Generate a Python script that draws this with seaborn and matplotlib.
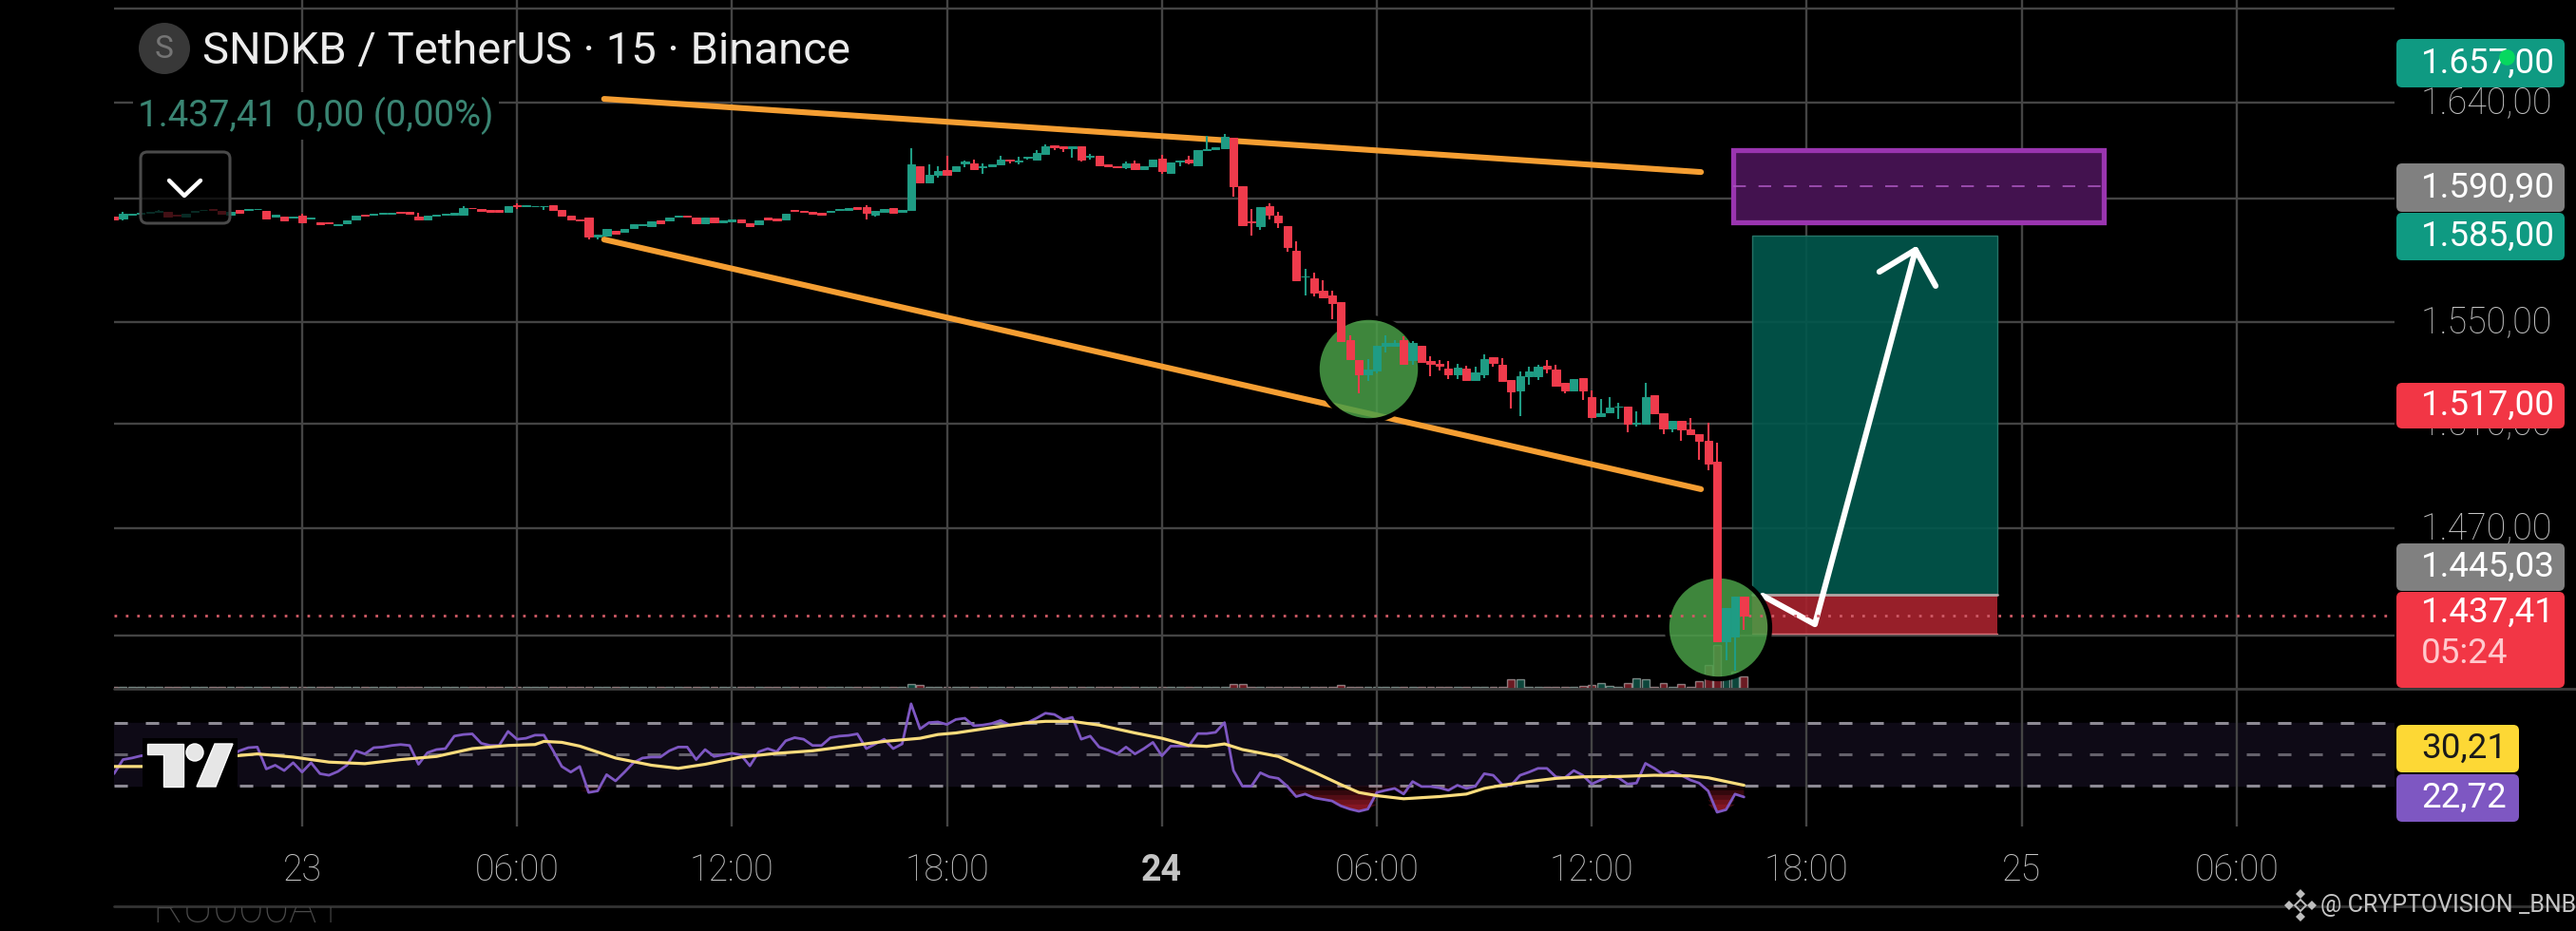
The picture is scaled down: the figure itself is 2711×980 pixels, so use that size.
import numpy as np
import pandas as pd
import matplotlib.pyplot as plt
import seaborn as sns
from matplotlib.patches import FancyBboxPatch, Rectangle, Polygon, Circle

W, H = 2711, 980

# =============================
# CANDLES (15 min, from 22nd 18:45)
# =============================
opens = [
    1592.6, 1591.8, 1593.5, 1593.9, 1594.2, 1594.7, 1594.4, 1593.3, 1592.8, 1594.4,
    1595.4, 1595.6, 1594.9, 1593.3, 1595.3, 1595.5, 1595.6, 1595.1, 1592.6, 1592.6,
    1592.1, 1593.0, 1591.9, 1590.3, 1590.5, 1589.2, 1590.0, 1591.4, 1593.6, 1593.6,
    1593.7, 1593.9, 1594.4, 1594.5, 1592.8, 1591.5, 1593.1, 1593.3, 1593.6, 1593.6,
    1596.3, 1595.9, 1595.3, 1595.3, 1594.4, 1597.4, 1597.0, 1596.9, 1596.8, 1597.2,
    1595.5, 1593.1, 1591.4, 1592.1, 1584.4, 1585.0, 1586.7, 1586.3, 1588.0, 1589.2,
    1588.9, 1591.0, 1591.0, 1592.6, 1593.0, 1592.3, 1590.0, 1592.1, 1590.5, 1590.8,
    1591.4, 1589.9, 1589.5, 1592.1, 1591.8, 1591.4, 1595.3, 1595.1, 1594.6, 1594.1,
    1594.6, 1595.4, 1595.5, 1596.4, 1596.5, 1593.6, 1594.6, 1596.2, 1594.6, 1595.5,
    1613.6, 1606.8, 1609.7, 1612.0, 1611.4, 1614.7, 1614.7, 1613.1, 1613.4, 1614.3,
    1616.1, 1615.3, 1617.0, 1616.0, 1618.6, 1622.2, 1621.9, 1621.0, 1621.8, 1617.3,
    1617.6, 1614.3, 1613.6, 1613.1, 1614.7, 1612.3, 1613.6, 1616.7, 1610.7, 1615.3,
    1616.3, 1613.9, 1620.2, 1620.6, 1621.0, 1625.2, 1605.2, 1590.8, 1588.9, 1597.0,
    1593.1, 1588.6, 1578.6, 1568.2, 1567.4, 1562.4, 1560.7, 1557.9, 1542.9, 1535.0,
    1529.2, 1531.0, 1540.4, 1540.4, 1542.9, 1534.8, 1540.4, 1534.4, 1533.3, 1531.7,
    1529.2, 1531.7, 1527.0, 1529.5, 1536.0, 1532.9, 1527.0, 1522.9, 1528.5, 1528.5,
    1532.7, 1531.3, 1526.0, 1522.9, 1527.9, 1520.5, 1512.8, 1514.4, 1516.6, 1516.8,
    1510.0, 1510.0, 1521.3, 1514.1, 1508.1, 1511.0, 1507.9, 1505.9, 1503.5, 1495.3,
    1428.0, 1429.7, 1444.3,
]
closes = [
    1591.4, 1593.9, 1594.0, 1594.2, 1594.7, 1595.0, 1592.7, 1592.9, 1593.9, 1595.1,
    1595.5, 1595.4, 1593.9, 1594.6, 1594.2, 1595.8, 1595.8, 1591.8, 1593.3, 1591.0,
    1592.7, 1590.5, 1592.3, 1589.5, 1590.1, 1589.5, 1591.0, 1593.1, 1593.1, 1593.9,
    1594.1, 1594.2, 1594.1, 1593.9, 1591.4, 1593.1, 1593.6, 1593.7, 1594.2, 1596.2,
    1596.0, 1595.1, 1594.6, 1594.6, 1596.9, 1596.9, 1597.2, 1597.0, 1596.9, 1595.5,
    1593.0, 1591.4, 1591.2, 1584.6, 1585.4, 1587.6, 1585.7, 1587.5, 1589.5, 1589.6,
    1590.8, 1590.1, 1592.1, 1593.1, 1592.6, 1589.9, 1592.3, 1590.5, 1591.2, 1591.3,
    1590.5, 1588.7, 1591.2, 1591.3, 1591.2, 1593.9, 1594.9, 1594.4, 1594.0, 1593.3,
    1595.1, 1595.6, 1596.2, 1595.9, 1594.2, 1595.0, 1595.9, 1594.2, 1595.3, 1614.0,
    1606.8, 1609.8, 1611.4, 1610.0, 1613.4, 1615.2, 1612.3, 1613.4, 1614.0, 1616.0,
    1615.6, 1615.6, 1617.3, 1618.9, 1621.9, 1621.5, 1621.0, 1621.9, 1616.3, 1617.9,
    1613.8, 1613.6, 1613.1, 1614.4, 1612.3, 1613.4, 1616.0, 1611.4, 1614.9, 1615.7,
    1615.1, 1620.2, 1620.6, 1621.5, 1625.6, 1605.2, 1589.3, 1590.2, 1596.6, 1593.4,
    1590.2, 1580.2, 1566.7, 1568.5, 1562.0, 1560.0, 1557.5, 1542.3, 1535.4, 1529.2,
    1531.3, 1540.4, 1541.7, 1541.7, 1533.5, 1541.7, 1534.2, 1533.5, 1532.7, 1529.2,
    1531.9, 1527.0, 1530.0, 1535.4, 1533.8, 1526.7, 1522.6, 1528.5, 1530.4, 1532.3,
    1531.7, 1525.0, 1522.9, 1527.5, 1522.9, 1512.5, 1514.0, 1516.4, 1516.8, 1510.0,
    1510.4, 1520.5, 1514.1, 1508.2, 1511.0, 1507.9, 1505.9, 1503.5, 1494.6, 1428.0,
    1440.1, 1444.3, 1437.41,
]
# only candles with a wick that can be seen
high_wicks = {
    1: 1594.5, 5: 1595.5, 21: 1594.0, 34: 1594.2, 39: 1596.8, 45: 1598.2, 84: 1597.2,
    89: 1620.9, 91: 1614.0, 92: 1613.6, 93: 1617.7, 95: 1615.6, 96: 1616.0, 97: 1614.4,
    99: 1617.6, 101: 1617.3, 103: 1620.2, 104: 1622.6, 109: 1618.6, 113: 1615.3,
    114: 1615.7, 117: 1618.2, 120: 1617.6, 122: 1625.9, 124: 1626.8, 127: 1595.9,
    129: 1598.1, 130: 1594.7, 132: 1582.7, 133: 1571.2, 134: 1569.9, 135: 1566.8,
    136: 1562.6, 138: 1544.8, 140: 1535.4, 142: 1544.8, 143: 1543.0, 144: 1544.5,
    145: 1542.5, 147: 1536.3, 148: 1534.8, 149: 1534.4, 150: 1533.5, 151: 1532.7,
    152: 1532.3, 153: 1537.3, 155: 1535.8, 157: 1530.4, 158: 1532.3, 159: 1532.9,
    160: 1534.8, 161: 1532.9, 165: 1522.9, 166: 1519.5, 167: 1520.5, 168: 1518.0,
    170: 1515.0, 171: 1526.0, 176: 1512.3, 178: 1510.5, 179: 1502.6,
}
low_wicks = {
    1: 1591.0, 21: 1589.9, 45: 1595.9, 48: 1595.5, 53: 1583.4, 54: 1583.4, 84: 1591.4,
    85: 1592.7, 91: 1606.5, 92: 1608.7, 93: 1609.4, 95: 1613.1, 96: 1611.8, 97: 1610.3,
    99: 1613.9, 100: 1614.4, 101: 1614.3, 102: 1616.0, 105: 1620.0, 106: 1619.3,
    107: 1617.0, 108: 1615.2, 109: 1616.0, 113: 1612.3, 117: 1610.3, 118: 1610.3,
    119: 1613.6, 120: 1614.3, 125: 1600.8, 127: 1584.8, 128: 1587.2, 129: 1591.5,
    130: 1588.0, 131: 1578.2, 133: 1560.7, 134: 1560.3, 136: 1551.3, 139: 1521.7,
    140: 1526.7, 141: 1529.8, 142: 1537.9, 145: 1532.9, 147: 1528.5, 148: 1530.8,
    149: 1527.5, 150: 1527.5, 153: 1527.9, 154: 1532.3, 156: 1516.0, 157: 1512.9,
    158: 1525.4, 159: 1527.0, 160: 1529.8, 162: 1521.7, 164: 1519.2, 168: 1512.0,
    169: 1506.8, 170: 1508.8, 173: 1506.1, 174: 1506.8, 175: 1503.5, 177: 1496.2,
    178: 1491.9, 180: 1421.0, 181: 1417.0, 182: 1432.0,
}
# volume, most bars are tiny so only the taller ones are listed
volume_base = 2.5
volumes_tall = {
    89: 5, 90: 4, 125: 5, 126: 5, 137: 4, 156: 10, 157: 10, 164: 3, 165: 4, 166: 6, 167: 3,
    169: 6, 170: 11, 171: 10, 173: 6, 175: 5, 177: 8, 178: 25, 179: 46, 180: 13, 181: 18, 182: 13,
}

# =============================
# RSI
# =============================
rsi = [
    37.6, 46.6, 47.6, 49.0, 49.6, 50.6, 46.6, 45.6, 46.6, 48.6, 49.6, 50.2, 48.2, 49.0, 52.2,
    54.2, 54.6, 40.6, 43.0, 39.6, 44.6, 38.6, 44.6, 37.6, 36.6, 39.0, 43.0, 52.2, 50.2, 54.2,
    54.6, 55.6, 56.2, 55.6, 43.6, 51.0, 53.0, 53.6, 61.6, 62.6, 63.0, 57.0, 55.6, 55.6, 64.6,
    59.6, 60.2, 62.2, 62.2, 52.6, 42.2, 38.6, 42.2, 25.6, 26.6, 37.0, 33.0, 38.6, 44.6, 47.6,
    48.2, 48.2, 52.2, 54.6, 54.6, 46.6, 53.0, 48.6, 49.6, 50.6, 49.6, 42.6, 51.6, 53.6, 51.6,
    58.6, 60.6, 59.6, 55.6, 55.6, 60.6, 61.6, 62.0, 63.0, 53.6, 56.6, 59.6, 53.6, 56.6, 82.2,
    66.2, 70.2, 70.6, 69.0, 72.2, 73.0, 68.2, 68.6, 69.6, 71.6, 68.6, 69.0, 70.2, 73.0, 76.2,
    75.4, 72.0, 73.6, 59.6, 61.6, 54.6, 52.6, 50.2, 54.6, 50.2, 53.6, 57.6, 49.0, 55.2, 55.2,
    55.2, 63.2, 63.2, 64.0, 70.2, 39.6, 29.6, 29.6, 38.2, 35.6, 34.6, 29.6, 23.0, 24.6, 22.2,
    21.2, 20.2, 17.0, 15.0, 13.6, 15.0, 25.6, 27.0, 28.2, 24.6, 32.6, 29.4, 29.4, 28.6, 27.0,
    30.2, 28.2, 29.6, 37.6, 36.6, 30.6, 30.2, 36.6, 38.6, 41.0, 41.0, 35.6, 35.0, 39.6, 36.6,
    31.0, 33.6, 36.2, 35.0, 31.0, 31.6, 44.2, 41.0, 37.0, 39.0, 36.6, 33.6, 31.6, 26.6, 13.0,
    14.6, 24.6, 22.72,
]
rsi_ma_slots = [
    0, 4, 8, 12, 16, 20, 24, 28, 32, 36, 40, 44, 47, 48, 50, 52, 56, 60, 63, 66, 70, 74, 78, 82, 86,
    90, 92, 94, 98, 102, 104, 107, 110, 114, 117, 120, 122, 124, 126, 130, 134, 137, 139, 141, 144,
    148, 151, 153, 155, 158, 161, 164, 168, 172, 176, 178, 180, 182,
]
rsi_ma = [
    42.2, 42.2, 45.6, 48.2, 50.2, 48.2, 45.0, 44.0, 46.6, 48.6, 53.6, 55.6, 56.2, 58.2, 57.6, 55.2,
    47.6, 43.0, 41.0, 43.6, 48.2, 50.6, 52.2, 55.2, 58.2, 60.2, 62.6, 63.6, 67.0, 70.2, 71.0, 71.0,
    68.6, 63.6, 60.2, 55.6, 55.0, 56.6, 53.0, 48.6, 38.6, 30.6, 25.6, 23.6, 21.6, 23.0, 24.6, 28.2,
    30.2, 32.6, 34.6, 35.6, 35.8, 36.6, 36.2, 35.0, 32.6, 30.21,
]

# =============================
# AXIS LABELS AND DRAWINGS
# =============================
grid_prices = [1680, 1640, 1600, 1550, 1510, 1470, 1430]
price_labels = ["", "1.640,00", "", "1.550,00", "1.510,00", "1.470,00", ""]
time_ticks = [0, 6, 12, 18, 24, 30, 36, 42, 48, 54]
time_labels = ["23", "06:00", "12:00", "18:00", "24", "06:00", "12:00", "18:00", "25", "06:00"]

upper_line_x, upper_line_y = [8.43, 39.05], [1641.6, 1611.0]
lower_line_x, lower_line_y = [8.43, 39.05], [1583.3, 1484.8]
arrow_x, arrow_y = [40.77, 42.23, 45.04], [1444.7, 1434.1, 1579.1]
head_x, head_y = [44.03, 45.04, 45.6], [1570.2, 1579.1, 1564.5]
circle_x, circle_y = [29.76, 39.52], [1531.7, 1433.1]

TEAL = "#1f9c84"
RED = "#ef3b4c"

sns.set_theme(style="dark", rc={"axes.facecolor": "black", "figure.facecolor": "black"})
plt.rcParams["font.family"] = ["Roboto", "DejaVu Sans"]

slots = np.arange(len(opens))
hours = -5.25 + 0.25 * slots
df = pd.DataFrame({"hour": hours, "open": opens, "close": closes, "rsi": rsi})
df["up"] = df["close"] >= df["open"]


def pane(top, bottom):
    return [120 / W, 1 - bottom / H, 2400 / W, (bottom - top) / H]


fig = plt.figure(figsize=(W / 100, H / 100), dpi=100, facecolor="black")

# =============================
# 1. PRICE PANE
# =============================
ax_vol = fig.add_axes(pane(0, 725), zorder=1)
ax = fig.add_axes(pane(0, 725), zorder=2)
ax.patch.set_visible(False)

vols = [volumes_tall.get(i, volume_base) for i in slots]
ax_vol.bar(hours, vols, width=0.21, color=[TEAL if u else RED for u in df["up"]], alpha=0.45)
ax_vol.set_xlim(-5.25, 58.41)
ax_vol.set_ylim(0, 725)
ax_vol.set_xticks([])
ax_vol.set_yticks([])

ax.set_yscale("log")
ax.set_xlim(-5.25, 58.41)
ax.set_ylim(1410.5, 1683.9)
ax.yaxis.tick_right()
ax.set_yticks(grid_prices)
ax.set_yticklabels(price_labels, fontsize=27, color="#c4c4c4", fontweight="light", va="center")
ax.minorticks_off()
ax.set_xticks(time_ticks)
ax.set_xticklabels([])
ax.tick_params(axis="both", length=0)
ax.tick_params(axis="y", pad=20)
ax.grid(True, color="#444444", linewidth=1.7)
ax.set_axisbelow(True)
for side in ax.spines.values():
    side.set_visible(False)
for side in ax_vol.spines.values():
    side.set_visible(False)

# long/short position box
ax.add_patch(Rectangle((40.48, 1445.03), 6.84, 1585 - 1445.03, facecolor="#02574c", alpha=0.92,
                       edgecolor="#2a7a6c", linewidth=1, zorder=1.2))
ax.add_patch(Rectangle((40.48, 1430.8), 6.84, 1445.03 - 1430.8, facecolor="#a5222d", alpha=0.92, edgecolor="none", zorder=1.2))
ax.plot([40.48, 47.32], [1445.03, 1445.03], color="#b5a5a5", linewidth=2, zorder=1.3)
ax.plot([40.48, 47.32], [1430.8, 1430.8], color="#d8737b", linewidth=1, zorder=1.3)

# purple zone
ax.add_patch(Rectangle((39.95, 1590.2), 10.35, 1620.1 - 1590.2, facecolor="#43124f", edgecolor="#9a35b0", linewidth=3.8, zorder=1.2))
ax.plot([39.95, 50.3], [1605.3, 1605.3], color="#a855bd", linewidth=1.2, linestyle=(0, (8, 8)), zorder=1.3)

# trend lines
for lx, ly in [(upper_line_x, upper_line_y), (lower_line_x, lower_line_y)]:
    sns.lineplot(x=lx, y=ly, ax=ax, color="#f59e32", linewidth=4.4, sort=False, estimator=None,
                 solid_capstyle="round", zorder=1.5)

# white arrow
sns.lineplot(x=arrow_x, y=arrow_y, ax=ax, color="white", linewidth=4.4, sort=False, estimator=None,
             solid_capstyle="round", zorder=1.8)
sns.lineplot(x=head_x, y=head_y, ax=ax, color="white", linewidth=4.4, sort=False, estimator=None,
             solid_capstyle="round", zorder=1.8)

# green circles, black ring
ax.plot(circle_x, circle_y, linestyle="none", marker="o", markersize=78, markeredgewidth=3.5,
        markeredgecolor="black", markerfacecolor=(0.29, 0.62, 0.28, 0.85), zorder=2)

# last price line
ax.axhline(1437.41, color="#d05a66", linewidth=2, linestyle=(0, (1, 3.3)), zorder=2.5)

# candles
for i, row in df.iterrows():
    col = TEAL if row["up"] else RED
    low = min(row["open"], row["close"])
    high = max(row["open"], row["close"])
    ax.vlines(row["hour"], low_wicks.get(i, low), high_wicks.get(i, high), color=col, linewidth=1.5, zorder=3)
    ax.bar(row["hour"], high - low, bottom=low, width=0.22, color=col, edgecolor=col, linewidth=0.7, zorder=3.2)

# =============================
# 2. RSI PANE
# =============================
ax_rsi = fig.add_axes(pane(725, 870), zorder=2)
ax_rsi.set_xlim(-5.25, 58.41)
ax_rsi.set_ylim(3.9, 91.8)
ax_rsi.axhspan(30, 70, color="#0e0a16", zorder=0)
ax_rsi.set_xticks(time_ticks)
ax_rsi.set_xticklabels(time_labels, fontsize=27, color="#c4c4c4", fontweight="light")
ax_rsi.get_xticklabels()[4].set_fontweight("bold")
ax_rsi.set_yticks([])
ax_rsi.tick_params(axis="x", length=0, pad=20)
ax_rsi.grid(True, axis="x", color="#444444", linewidth=1.7)
ax_rsi.set_axisbelow(True)
for side in ax_rsi.spines.values():
    side.set_visible(False)
for level, shade in [(70, "#8d8a94"), (50, "#64616b"), (30, "#8d8a94")]:
    ax_rsi.axhline(level, color=shade, linewidth=2.2, linestyle=(0, (4.6, 6.2)), zorder=1)

# oversold area, getting redder towards the line
rsi_values = df["rsi"].to_numpy()
for level, alpha in [(30, 0.12), (27, 0.2), (24, 0.25), (21, 0.3), (18, 0.35)]:
    ax_rsi.fill_between(hours, level, np.minimum(rsi_values, level), where=rsi_values < level,
                        interpolate=True, color="#b01f2e", alpha=alpha, linewidth=0, zorder=1.5)

sns.lineplot(data=df, x="hour", y="rsi", ax=ax_rsi, color="#7e57c2", linewidth=2, zorder=2)
sns.lineplot(x=[-5.25 + 0.25 * s for s in rsi_ma_slots], y=rsi_ma, ax=ax_rsi, color="#f9dc7c",
             linewidth=2.3, zorder=2.2)
ax_rsi.set_xlabel("")
ax_rsi.set_ylabel("")

# =============================
# 3. SCREEN OVERLAY (pixel positions)
# =============================
ui = fig.add_axes([0, 0, 1, 1], zorder=5)
ui.set_xlim(0, W)
ui.set_ylim(H, 0)
ui.axis("off")


def tag(x0, x1, y0, y1, color):
    ui.add_patch(FancyBboxPatch((x0, y0), x1 - x0, y1 - y0, boxstyle="round,pad=0,rounding_size=6",
                                facecolor=color, edgecolor="none"))


def label(x, y, s, color="white", size=27, weight="normal", **kw):
    return ui.text(x, y, s, color=color, fontsize=size, fontweight=weight, va="center", ha="left", **kw)


# separators
ui.plot([120, W], [725, 725], color="#3d3d3d", linewidth=2)
ru = label(160, 958, "RU000A1", color="#4a4a4a", size=35, weight="light")
ru.set_clip_on(True)
ru.set_clip_path(Rectangle((100, 955), 400, 25, transform=ui.transData))
ui.plot([120, W], [954, 954], color="#333333", linewidth=2)

# price tags
for y0, y1, col, txt in [
    (41, 92, "#0f9a82", "1.657,00"),
    (172, 223, "#808080", "1.590,90"),
    (224, 274, "#0f9a82", "1.585,00"),
    (403, 451, "#f23645", "1.517,00"),
    (572, 622, "#808080", "1.445,03"),
]:
    tag(2522, 2699, y0, y1, col)
    label(2548, (y0 + y1) / 2, txt, size=26.5)
tag(2522, 2699, 623, 724, "#f23645")
label(2548, 645, "1.437,41", size=26.5)
label(2548, 688, "05:24", color="#ffc9cd", size=26.5)
ui.plot([2638], [60], marker="o", markersize=12, color="#06d85f", markeredgewidth=0, zorder=6)

tag(2522, 2651, 763, 813, "#fdd835")
label(2548, 788, "30,21", color="#1a1a1a", size=26.5)
tag(2522, 2651, 815, 865, "#7e57c2")
label(2548, 840, "22,72", size=26.5)

# header
ui.add_patch(Circle((173, 51), 27, facecolor="#383838", edgecolor="none"))
ui.text(173, 52, "S", color="#757575", fontsize=24, ha="center", va="center")
label(213, 54, "SNDKB / TetherUS · 15 · Binance", color="#ececec", size=34)
label(145, 122, "1.437,41  0,00 (0,00%)", color="#3a8573", size=27.6,
      bbox=dict(facecolor="black", edgecolor="none", pad=4))

# collapse button
ui.add_patch(FancyBboxPatch((148, 160), 94, 75, boxstyle="round,pad=0,rounding_size=7",
                            facecolor=(0, 0, 0, 0.72), edgecolor="#4a4a4a", linewidth=2.2))
ui.plot([178, 194, 211], [190, 206, 190], color="white", linewidth=3.2, solid_capstyle="round")

# TradingView logo
ui.add_patch(Rectangle((150, 777), 100, 60, facecolor="black", edgecolor="none"))
logo_col = "#e6e6e6"
ui.add_patch(Polygon([(154.5, 783), (193, 783), (193, 828), (172, 828), (172, 794), (154.5, 794)], facecolor=logo_col))
ui.add_patch(Circle((205, 792), 9, facecolor=logo_col))
ui.add_patch(Polygon([(226, 783), (245, 783), (227, 828), (207, 828)], facecolor=logo_col))

# watermark
ui.text(2442, 953, "@ CRYPTOVISION _BNB", color="#c4c4c4", fontsize=18, ha="left", va="center")
for dx, dy in [(-12, 0), (12, 0), (0, -12), (0, 12)]:
    ui.plot([2421 + dx], [953 + dy], marker="D", markersize=5.5, color="#bdbdbd", markeredgewidth=0)
ui.plot([2421], [953], marker="D", markersize=6.5, markerfacecolor="none", markeredgecolor="#bdbdbd", markeredgewidth=1.4)

fig.savefig("out.png", dpi=100, facecolor="black")
plt.close(fig)
